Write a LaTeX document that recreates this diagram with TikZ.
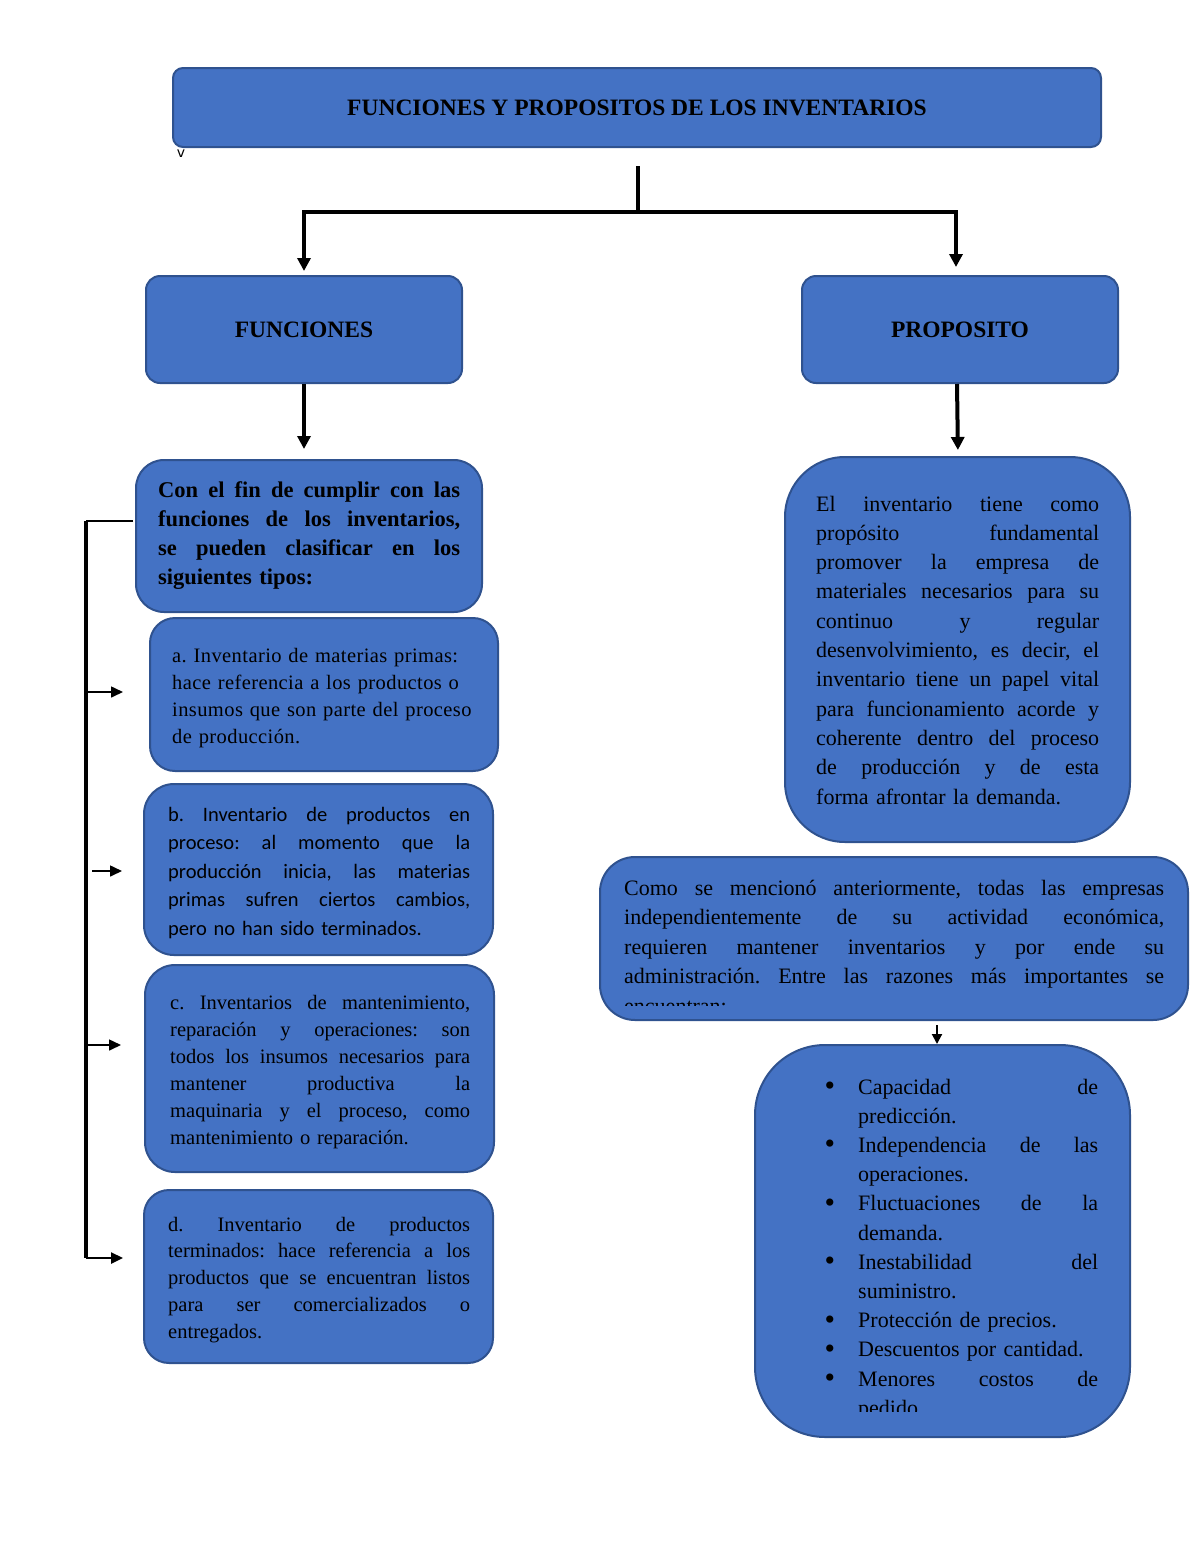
\documentclass[tikz,border=0pt]{standalone}
\usepackage{fontspec}
\setmainfont{Liberation Serif}
\newfontfamily\serifwide[LetterSpace=2]{Liberation Serif}
\newfontfamily\calib{Carlito}
\newfontfamily\dejasans{DejaVu Sans}
\usetikzlibrary{arrows.meta}
\definecolor{boxfill}{HTML}{4472C4}
\definecolor{boxline}{HTML}{2F528F}
\frenchspacing
\tikzset{
  box/.style={draw=boxline, fill=boxfill, line width=2pt, inner sep=0pt},
  conn/.style={line width=4pt, -{Triangle[width=13pt,length=13pt]}},
  busarrow/.style={line width=1.6pt, -{Triangle[width=11pt,length=12pt]}},
  txt/.style={inner sep=0pt, anchor=base west, align=left, text=black},
}
\newcommand\JL[1]{\makebox[\hsize][s]{\frenchspacing\spaceskip=0pt\xspaceskip=0pt #1}\\}
\newcommand\BL{\leavevmode\llap{\raisebox{-1.5pt}{\fontsize{30pt}{30pt}\selectfont\textbullet}\hskip 23pt}}
\begin{document}
\begin{tikzpicture}[x=1pt,y=-1pt]
\useasboundingbox (0,0) rectangle (1200,1553);

% ---------- boxes ----------
\node[box, rounded corners=10pt, minimum width=928pt, minimum height=79pt,
      font={\fontsize{23.5pt}{26pt}\selectfont\bfseries}] (title) at (637,107.5)
      {\raisebox{-2pt}{FUNCIONES Y PROPOSITOS DE LOS INVENTARIOS}};
\node[inner sep=0pt, font={\dejasans\fontsize{14pt}{15pt}\selectfont}] (vmark) at (181,154) {v};

\node[box, rounded corners=14pt, minimum width=316pt, minimum height=107pt,
      font={\fontsize{23.5pt}{26pt}\selectfont\bfseries}] (func) at (304,329.5) {FUNCIONES};
\node[box, rounded corners=14pt, minimum width=316pt, minimum height=107pt,
      font={\fontsize{23.5pt}{26pt}\selectfont\bfseries}] (prop) at (960,329.5) {PROPOSITO};

\node[box, rounded corners=28pt, minimum width=346pt, minimum height=152pt] (fin) at (309,536) {};
\node[box, rounded corners=25pt, minimum width=348pt, minimum height=153pt] (boxA) at (324,694.5) {};
\node[box, rounded corners=30pt, minimum width=349pt, minimum height=171pt] (boxB) at (318.5,869.5) {};
\node[box, rounded corners=30pt, minimum width=349pt, minimum height=207pt] (boxC) at (319.5,1068.5) {};
\node[box, rounded corners=25pt, minimum width=349pt, minimum height=173pt] (boxD) at (318.5,1276.5) {};

\node[box, rounded corners=60pt, minimum width=345pt, minimum height=385pt] (inv) at (957.5,649.5) {};
\node[box, rounded corners=35pt, minimum width=588pt, minimum height=163pt] (como) at (894,938.5) {};
\node[box, rounded corners=70pt, minimum width=375pt, minimum height=392pt] (bul) at (942.5,1241) {};

% ---------- texts ----------
\node[txt, text width=302pt, font={\fontsize{22.5pt}{29pt}\selectfont\bfseries}] (finT) at (158,497) {%
\JL{Con el fin de cumplir con las}
\JL{funciones de los inventarios,}
\JL{se pueden clasificar en los}
siguientes tipos:};

\node[txt, text width=340pt, font={\serifwide\fontsize{20.5pt}{27pt}\selectfont}] (aT) at (172,662) {%
a. Inventario de materias primas:\\
hace referencia a los productos o\\
insumos que son parte del proceso\\
de producción.};

\node[txt, text width=302pt, font={\calib\fontsize{20.5pt}{28.6pt}\selectfont}] (bT) at (168,821) {%
\JL{b. Inventario de productos en}
\JL{proceso: al momento que la}
\JL{producción inicia, las materias}
\JL{primas sufren ciertos cambios,}
pero no han sido terminados.};

\node[txt, text width=300pt, font={\fontsize{20.5pt}{27pt}\selectfont}] (cT) at (170,1009) {%
\JL{c. Inventarios de mantenimiento,}
\JL{reparación y operaciones: son}
\JL{todos los insumos necesarios para}
\JL{mantener productiva la}
\JL{maquinaria y el proceso, como}
mantenimiento o reparación.};

\node[txt, text width=302pt, font={\fontsize{20.5pt}{26.8pt}\selectfont}] (dT) at (168,1231) {%
\JL{d. Inventario de productos}
\JL{terminados: hace referencia a los}
\JL{productos que se encuentran listos}
\JL{para ser comercializados o}
entregados.};

\node[txt, text width=283pt, font={\fontsize{22pt}{29.3pt}\selectfont}] (invT) at (816,511) {%
\JL{El inventario tiene como}
\JL{propósito fundamental}
\JL{promover la empresa de}
\JL{materiales necesarios para su}
\JL{continuo y regular}
\JL{desenvolvimiento, es decir, el}
\JL{inventario tiene un papel vital}
\JL{para funcionamiento acorde y}
\JL{coherente dentro del proceso}
\JL{de producción y de esta}
forma afrontar la demanda.};

\begin{scope}
\clip (600,857) rectangle (1188,1005);
\node[txt, text width=540pt, font={\fontsize{22pt}{29.5pt}\selectfont}] (comoT) at (624,895) {%
\JL{Como se mencionó anteriormente, todas las empresas}
\JL{independientemente de su actividad económica,}
\JL{requieren mantener inventarios y por ende su}
\JL{administración. Entre las razones más importantes se}
encuentran:};
\end{scope}

\begin{scope}
\clip (755,1045) rectangle (1130,1411);
\node[txt, text width=240pt, font={\fontsize{22pt}{29.2pt}\selectfont}] (bulT) at (858,1094) {%
\BL\JL{Capacidad de}
predicción.\\
\BL\JL{Independencia de las}
operaciones.\\
\BL\JL{Fluctuaciones de la}
demanda.\\
\BL\JL{Inestabilidad del}
suministro.\\
\BL Protección de precios.\\
\BL Descuentos por cantidad.\\
\BL\JL{Menores costos de}
pedido.};
\end{scope}

% ---------- connectors ----------
\coordinate (tj) at (638,212);
\draw[line width=4pt] ([yshift=-18pt]title.south -| tj) -- (tj);
\draw[conn, shorten >=4pt] (tj) -| (func.north);
\draw[conn, shorten >=8pt] (tj) -| (prop.north -| 956,0);
\draw[conn, shorten >=10pt] (func.south) -- (func.south |- fin.north);
\draw[conn, shorten >=7pt] (prop.south -| 957,0) -- (958,457);

\coordinate (busTop) at (86,521);
\coordinate (busBot) at (86,1258);
\coordinate (aS) at (86,692);   \coordinate (aE) at (123,692);
\coordinate (bS) at (92,871);   \coordinate (bE) at (122,871);
\coordinate (cS) at (86,1045);  \coordinate (cE) at (121,1045);
\coordinate (dE) at (123,1258);
\draw[line width=1.5pt] ([xshift=-2pt]fin.west |- busTop) -- (busTop);
\draw[line width=3.5pt] (busTop) -- (busBot);
\draw[busarrow] (aS) -- (aE);
\draw[busarrow] (bS) -- (bE);
\draw[busarrow] (cS) -- (cE);
\draw[line width=2.5pt, -{Triangle[width=11pt,length=12pt]}] (busBot) -- (dE);

\coordinate (cmS) at (937,1025);
\coordinate (cmE) at (937,1044);
\draw[line width=2pt, -{Triangle[width=10pt,length=10pt]}] (cmS) -- (cmE);
\end{tikzpicture}
\end{document}
